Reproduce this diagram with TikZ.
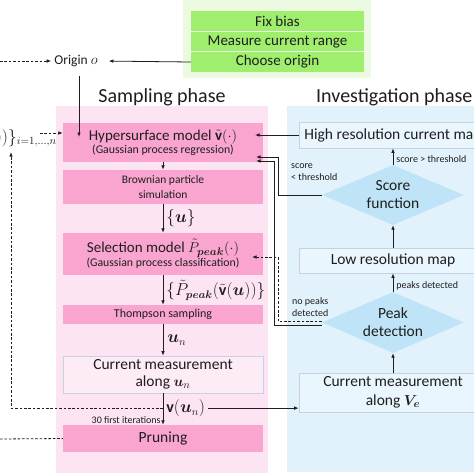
\documentclass[tikz,border=0pt]{standalone}
\usepackage{amsmath,bm}
\usepackage{fontspec}
\setmainfont{Carlito}
\usetikzlibrary{arrows.meta,shapes.geometric}
\definecolor{pinkpanel}{RGB}{253,228,242}
\definecolor{pinkbox}{RGB}{250,165,208}
\definecolor{pinklight}{RGB}{253,236,246}
\definecolor{bluepanel}{RGB}{226,242,252}
\definecolor{bluebox}{RGB}{233,246,253}
\definecolor{diam}{RGB}{192,228,247}
\definecolor{greenbox}{RGB}{160,238,110}
\definecolor{greenpanel}{RGB}{236,250,226}
\definecolor{boxline}{RGB}{200,210,220}
\definecolor{ink}{RGB}{30,30,30}
\begin{document}
\begin{tikzpicture}[x=1pt,y=-1pt,
  arr/.style={-{Latex[length=4.5pt,width=3.6pt]}, line width=0.8pt, draw=ink},
  plain/.style={line width=0.8pt, draw=ink},
  dsh/.style={line width=0.8pt, draw=ink, dash pattern=on 2.6pt off 1.8pt},
  pbox/.style={fill=pinkbox, draw=none, minimum width=200pt, inner sep=0pt, align=center, text=ink},
  lbox/.style={fill=pinklight, draw=boxline, line width=0.6pt, minimum width=200pt, inner sep=0pt, align=center, text=ink},
  bbox/.style={fill=bluebox, draw=boxline, line width=0.6pt, minimum width=188pt, inner sep=0pt, align=center, text=ink},
  gbox/.style={fill=greenbox, draw=none, minimum width=173pt, minimum height=19.5pt, inner sep=0pt, text=ink, font=\fontsize{15}{17}\selectfont},
  dia/.style={diamond, aspect=2.37, fill=diam, draw=none, minimum width=142pt, minimum height=60pt, inner sep=0pt, align=center, text=ink, font=\fontsize{15.5}{18}\selectfont},
  big/.style={font=\fontsize{15.5}{17}\selectfont},
  mlab/.style={text=ink, font=\fontsize{16}{18}\selectfont},
  tiny/.style={font=\fontsize{10}{12}\selectfont, text=ink, inner sep=0pt, align=left},
  title/.style={font=\fontsize{20}{22}\selectfont, text=ink, inner sep=0pt}
]
\useasboundingbox (0,0) rectangle (474,474);
\fill[white] (0,0) rectangle (474,474);
% panels
\fill[greenpanel] (183,0) rectangle (371,78);
\fill[pinkpanel] (56,106) rectangle (268,473);
\fill[bluepanel] (287,106) rectangle (474,472);
% titles
\node[title] (tS) at (162,97) {Sampling phase};
\node[title, anchor=west] (tI) at (316,97) {Investigation phase};
% green boxes
\node[gbox] (fix) at (277.5,21) {Fix bias};
\node[gbox] (meas) at (277.5,41.5) {Measure current range};
\node[gbox] (choose) at (277.5,62) {Choose origin};
% origin
\node[text=ink, inner sep=3pt, font=\fontsize{13.5}{15}\selectfont] (origin) at (76,61) {Origin $o$};
\coordinate (ol) at (0,61);
\coordinate (otip) at (79,137);
% sampling boxes
\node[pbox, minimum height=39pt] (hyper) at (163,142.5) {{\fontsize{15}{16}\selectfont Hypersurface model $\tilde{\mathbf v}(\cdot)$}\\[-1pt]{\fontsize{11.8}{13}\selectfont (Gaussian process regression)}};
\node[pbox, minimum height=34pt, font=\fontsize{11.5}{14.5}\selectfont] (brown) at (163,187) {Brownian particle\\simulation};
\node[pbox, minimum height=42pt] (sel) at (163,254) {{\fontsize{15}{16}\selectfont Selection model $\tilde P_{\bm{peak}}(\cdot)$}\\[0pt]{\fontsize{11.8}{13}\selectfont (Gaussian process classification)}};
\node[pbox, minimum height=19pt, font=\fontsize{12}{13}\selectfont] (thomp) at (163,314.5) {Thompson sampling};
\node[lbox, minimum height=37pt, big] (curm) at (163,374.5) {Current measurement\\along $\bm u_n$};
\node[pbox, minimum height=27pt, big] (prun) at (163,438.5) {Pruning};
% data text
\node[anchor=base east, inner sep=0pt, text=ink, font=\fontsize{16}{18}\selectfont] (data) at (57,142) {$\{(\bm u_i,\mathbf v(\bm u_i))\}_{i=1,\ldots,n}$};
\coordinate (d1) at (40,133);
\coordinate (lt) at (11,152);
\coordinate (vm) at (163,408);
\coordinate (pl) at (0,439);
% investigation
\node[bbox, minimum height=26pt, big] (hires) at (393,135) {High resolution current map};
\node[dia] (score) at (393,195) {Score\\function};
\node[bbox, minimum height=25pt, big] (low) at (393,260.5) {Low resolution map};
\node[dia, minimum height=61pt] (peak) at (393,322.5) {Peak\\detection};
\node[bbox, minimum height=39pt, font=\fontsize{15.5}{19}\selectfont] (curv) at (393,392.5) {Current measurement\\along $\bm V_{\bm e}$};
\coordinate (hx) at (255,135);
\coordinate (h1) at (256,157);
\coordinate (h2) at (256,161);
\coordinate (s1) at (252,257);
% connectors top
\draw[dsh,arr] (ol) -- (origin.west);
\draw[arr, shorten >=8pt] (choose.west) -- (origin.east);
\draw[arr] ([xshift=3pt,yshift=-6pt]origin.south) -- (otip);
\draw[dsh,arr] (d1) -- (d1 -| hyper.west);
% sampling chain
\draw[arr] (hyper.south) -- (brown.north);
\draw[arr] (brown.south) -- node[right, inner sep=3pt, mlab] (lu) {$\{\bm u\}$} (sel.north);
\draw[arr] (sel.south) -- node[right, inner sep=3pt, mlab] (lp) {$\{\tilde P_{\bm{peak}}(\tilde{\mathbf v}(\bm u))\}$} (thomp.north);
\draw[arr] (thomp.south) -- node[right, inner sep=4pt, mlab] (lun) {$\bm u_n$} (curm.north);
\draw[arr] (curm.south) -- node[pos=0.47, right, inner sep=3pt, mlab] (lv) {$\mathbf v(\bm u_n)$} node[pos=0.86, left, tiny, inner sep=2pt] (l30) {30 first iterations} (prun.north);
\draw[dsh,arr] (vm) -| (lt);
\draw[dsh] (pl) -- (prun.west);
\draw[arr] (lv.east) -- (lv.east -| curv.west);
% investigation chain
\draw[arr] (curv.north) -- (peak.south);
\draw[arr] (peak.north) -- node[pos=0.3, right, tiny, inner sep=3pt] (lpd) {peaks detected} (low.south);
\draw[arr] (low.north) -- (score.south);
\draw[arr] (score.north) -- node[pos=0.35, right, tiny, inner sep=3pt] (lst) {score > threshold} (hires.south);
% feedback
\draw[arr] (hires.west) -- (hx);
\draw[arr] (score.west) -| (278,157) -- (h1);
\draw[arr] ([yshift=-3pt]peak.west) -| (274,161) -- (h2);
\draw[dsh,arr] ([yshift=1pt]peak.west) -| (278,257) -- (s1);
\node[tiny, anchor=north west] (llt) at (291,163) {score\\< threshold};
\node[tiny, anchor=north west] (lnp) at (292,297) {no peaks\\detected};
\end{tikzpicture}
\end{document}
